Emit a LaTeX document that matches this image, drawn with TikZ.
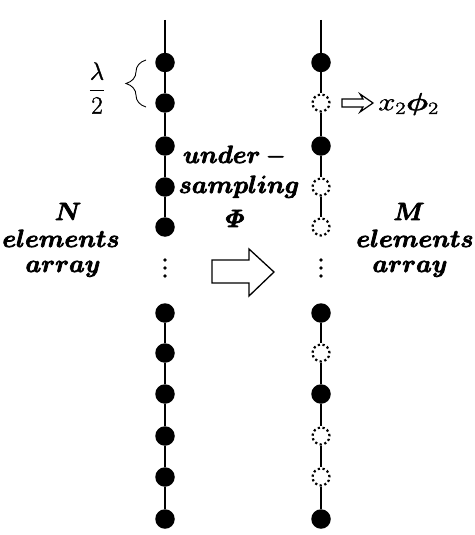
\documentclass[tikz,border=0pt]{standalone}
\usepackage{amsmath,bm,graphicx}
\usetikzlibrary{decorations.pathreplacing}
\newcommand{\heavytext}[1]{\special{pdf:literal direct 2 Tr 0.7 w}#1\special{pdf:literal direct 0 Tr}}
\newcommand{\medtext}[1]{\special{pdf:literal direct 2 Tr 0.35 w}#1\special{pdf:literal direct 0 Tr}}
\begin{document}
\begin{tikzpicture}[x=1pt,y=-1pt,
  fulldot/.style={circle, fill=black, minimum size=19.5pt, inner sep=0pt},
  hollowdot/.style={circle, draw, line width=2.2pt, dash pattern=on 2.2pt off 2.6pt, minimum size=17pt, inner sep=0pt, fill=white},
  wire/.style={line width=2.6pt},
  lbl/.style={anchor=base, inner sep=0pt, font=\fontsize{25}{30}\selectfont},
  vdot/.style={fill=black}]
\useasboundingbox (0,0) rectangle (474,535);
% left array
\coordinate (LT) at (165,20);
\foreach \y [count=\i] in {62.5,103,146,187,227,313,353,394,436,477,519}
  \node[fulldot] (L\i) at (165,\y) {};
% right array
\coordinate (RT) at (321,20);
\foreach \y/\s [count=\i] in {62.5/fulldot,103/hollowdot,146/fulldot,187/hollowdot,227/hollowdot,313/fulldot,353/hollowdot,394/fulldot,436/hollowdot,477/hollowdot,519/fulldot}
  \node[\s] (R\i) at (321,\y) {};
\draw[wire] (LT) -- (L1);
\draw[wire] (RT) -- (R1);
\foreach \i/\j in {1/2,2/3,3/4,4/5,6/7,7/8,8/9,9/10,10/11}{
  \draw[wire] (L\i) -- (L\j);
  \draw[wire] (R\i) -- (R\j);
}
% vertical ellipses
\foreach \y in {260,268,276}{
  \fill[vdot] (165,\y) circle (1.8pt);
  \fill[vdot] (321,\y) circle (1.8pt);
}
% lambda/2 with brace
\node (lam) at (97,88) {\fontsize{27}{30}\selectfont\medtext{$\dfrac{\lambda}{2}$}};
\draw[line width=0.9pt, decorate, decoration={brace, amplitude=20pt}] (146,107) -- (146,60);
% small arrow and label
\draw[line width=1.2pt] (342,99) -- (363,99) -- (360,94) -- (373,103) -- (360,112) -- (363,107) -- (342,107) -- cycle;
\node[anchor=west, inner sep=0pt] (x2) at (378,104) {\scalebox{1.25}[1]{\fontsize{27}{30}\selectfont\medtext{$x_2\bm{\phi}_2$}}};
% centre text
\node[lbl] (under) at (237,163) {\heavytext{$\bm{under}-{}$}};
\node[lbl] (samp) at (239,193) {\heavytext{$\bm{sampling}$}};
\node[lbl] (Phi) at (235,227) {\heavytext{$\bm{\varPhi}$}};
% big hollow arrow
\draw[line width=1.3pt] (212,260) -- (249,260) -- (249,249) -- (274,272) -- (249,296) -- (249,283) -- (212,283) -- cycle;
% left labels
\node[lbl] (N) at (68,220) {\heavytext{$\bm{N}$}};
\node[lbl] (Lel) at (61,247) {\heavytext{$\bm{elements}$}};
\node[lbl] (Lar) at (63,272) {\heavytext{$\bm{array}$}};
% right labels
\node[lbl] (M) at (409,220) {\heavytext{$\bm{M}$}};
\node[lbl] (Rel) at (415,247) {\heavytext{$\bm{elements}$}};
\node[lbl] (Rar) at (410,272) {\heavytext{$\bm{array}$}};
\end{tikzpicture}
\end{document}
